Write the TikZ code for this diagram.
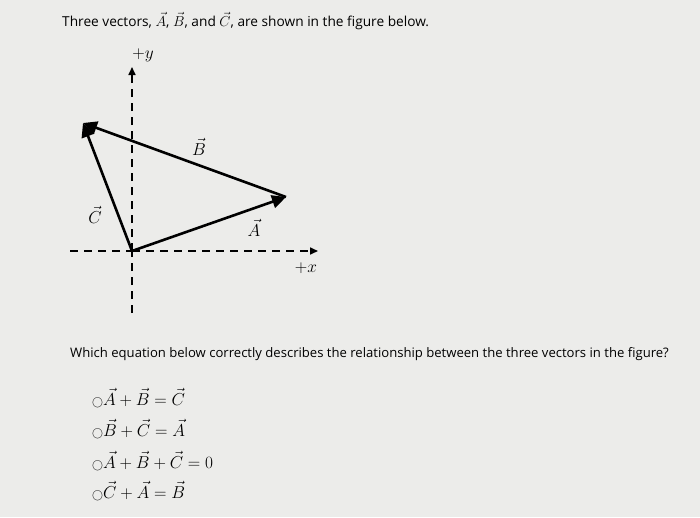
\documentclass[tikz,border=0pt]{standalone}
\usepackage{fontspec}
\setmainfont{Open Sans}
\usepackage{amsmath}
\usetikzlibrary{arrows.meta}
\definecolor{rvbg}{RGB}{236,236,234}
\begin{document}
\begin{tikzpicture}[x=1pt,y=-1pt,
  vec/.style={line width=2.6pt,-{Triangle[length=14pt,width=13pt]}},
  axis/.style={line width=1.6pt,dash pattern=on 8pt off 6pt},
  axtip/.style={-{Triangle[length=8pt,width=7pt]}},
  lbl/.style={inner sep=0pt,font=\fontsize{16.5}{18}\selectfont},
  txt/.style={anchor=base west,inner sep=0pt,font=\fontsize{13.7}{16}\selectfont},
  qtxt/.style={anchor=base west,inner sep=0pt,font=\fontsize{13.1}{16}\selectfont},
  opt/.style={anchor=base west,inner sep=0pt,font=\fontsize{16.5}{18}\selectfont}]
\fill[rvbg] (0,0) rectangle (700,517);
\useasboundingbox (0,0) rectangle (700,517);
% title
\node[txt] (title) at (62,26) {Three vectors, $\vec{A}$, $\vec{B}$, and $\vec{C}$, are shown in the figure below.};
% axes
\coordinate (O) at (132,251);
\coordinate (xl) at (70,251);
\coordinate (xr) at (318,251);
\coordinate (yb) at (132,313);
\coordinate (yt) at (132,67);
\draw[axis] (xl) -- (O);
\draw[axis,axtip] (O) -- (xr);
\draw[axis] (yb) -- (O);
\draw[axis,axtip] (O) -- (yt);
\node[lbl] (py) at (143,55) {$+y$};
\node[lbl] (px) at (306,268) {$+x$};
% vectors
\coordinate (P) at (286,197);
\coordinate (Q) at (83,123);
\draw[vec] (O) -- (P);
\draw[vec] (P) -- (Q);
\draw[vec] (O) -- (Q);
\node[lbl] (lB) at (199,147) {$\vec{B}$};
\node[lbl] (lC) at (95,215) {$\vec{C}$};
\node[lbl] (lA) at (254,228) {$\vec{A}$};
% question
\node[qtxt] (q) at (70,357) {Which equation below correctly describes the relationship between the three vectors in the figure?};
\node[opt] (o1) at (92,405) {{\fontsize{11}{11}\selectfont$\bigcirc$}$\vec{A}+\vec{B}=\vec{C}$};
\node[opt] (o2) at (92,436) {{\fontsize{11}{11}\selectfont$\bigcirc$}$\vec{B}+\vec{C}=\vec{A}$};
\node[opt] (o3) at (92,468) {{\fontsize{11}{11}\selectfont$\bigcirc$}$\vec{A}+\vec{B}+\vec{C}=0$};
\node[opt] (o4) at (92,498) {{\fontsize{11}{11}\selectfont$\bigcirc$}$\vec{C}+\vec{A}=\vec{B}$};
\end{tikzpicture}
\end{document}
